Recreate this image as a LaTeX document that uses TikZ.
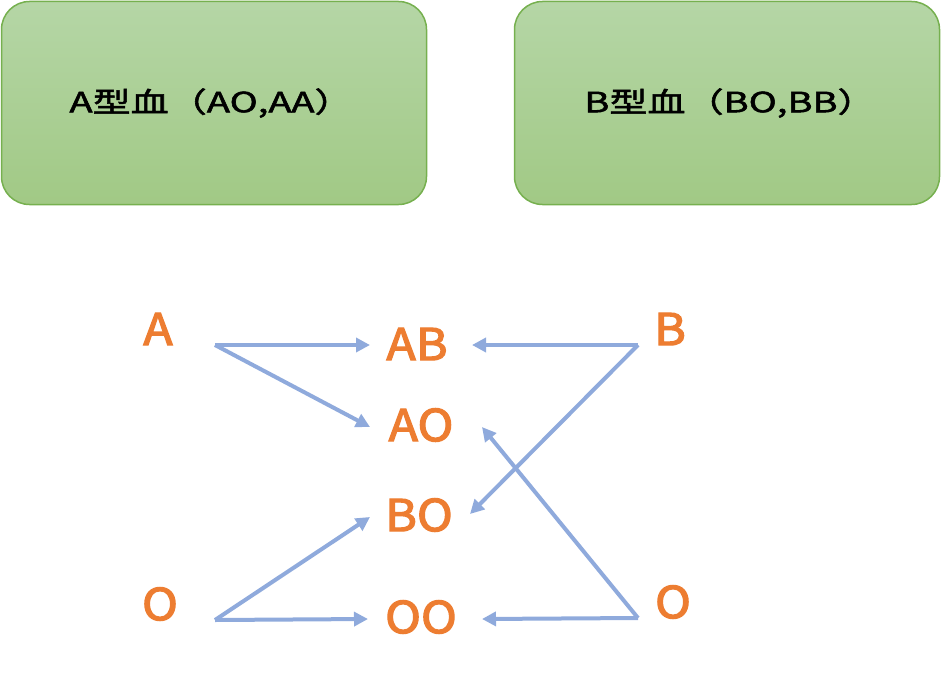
\documentclass[tikz,border=0pt]{standalone}
\usepackage{graphicx}
\usepackage{fontspec}
\setmainfont{Noto Sans CJK SC}
\newfontfamily\medfont{Noto Sans CJK SC}[FakeBold=1.6]
\newfontfamily\genofont{Noto Sans CJK SC}[FakeBold=2.6]
\usetikzlibrary{arrows.meta}
\definecolor{boxtop}{HTML}{B5D6A6}
\definecolor{boxbot}{HTML}{A1C985}
\definecolor{boxline}{HTML}{76B04F}
\definecolor{geno}{HTML}{ED7D31}
\definecolor{arr}{HTML}{8FAADC}
\newcommand{\wideboxtext}[1]{\scalebox{1.36}[1]{#1}}
\newcommand{\widegeno}[1]{\scalebox{1.1}[1]{#1}}
\tikzset{
  bloodbox/.style={rounded corners=28pt, draw=boxline, line width=1.5pt,
    top color=boxtop, bottom color=boxbot, minimum width=425pt, minimum height=203pt,
    inner sep=0pt},
  boxlabel/.style={font=\fontsize{28}{32}\selectfont\medfont, text=black, inner sep=0pt},
  allele/.style={text=geno, font=\fontsize{44}{48}\selectfont\genofont, inner sep=0pt},
  link/.style={draw=arr, line width=4pt, -{Triangle[length=14pt,width=14pt]}}
}
\begin{document}
\begin{tikzpicture}[x=1pt,y=-1pt]
\useasboundingbox (0,0) rectangle (941,674);
\node[bloodbox] (boxA) at (214,103) {};
\node[bloodbox] (boxB) at (727,103) {};
\node[boxlabel] (labA) at (211,103) {\wideboxtext{A型血（AO,AA）}};
\node[boxlabel] (labB) at (730,103) {\wideboxtext{B型血（BO,BB）}};
\node[allele] (A) at (158,329) {\widegeno{A}};
\node[allele] (B) at (670,329) {\widegeno{B}};
\node[allele] (OL) at (160,604) {\widegeno{O}};
\node[allele] (OR) at (673,602) {\widegeno{O}};
\node[allele] (AB) at (417,344) {\widegeno{AB}};
\node[allele] (AO) at (421,425) {\widegeno{AO}};
\node[allele] (BO) at (419,515) {\widegeno{BO}};
\node[allele] (OO) at (421,617) {\widegeno{OO}};
\coordinate (sA) at (215,345);
\coordinate (sB) at (638,345);
\coordinate (sOL) at (215,620);
\coordinate (sOR) at (638,618);
\coordinate (tAB1) at (370,345);
\coordinate (tAO1) at (370,427);
\coordinate (tAB2) at (472,345);
\coordinate (tBO2) at (470,514);
\coordinate (tBO1) at (370,517);
\coordinate (tOO1) at (368,619);
\coordinate (tAO2) at (482,427);
\coordinate (tOO2) at (482,619);
\draw[link] (sA) -- (tAB1);
\draw[link] (sA) -- (tAO1);
\draw[link] (sB) -- (tAB2);
\draw[link] (sB) -- (tBO2);
\draw[link] (sOL) -- (tBO1);
\draw[link] (sOL) -- (tOO1);
\draw[link] (sOR) -- (tAO2);
\draw[link] (sOR) -- (tOO2);
\end{tikzpicture}
\end{document}
